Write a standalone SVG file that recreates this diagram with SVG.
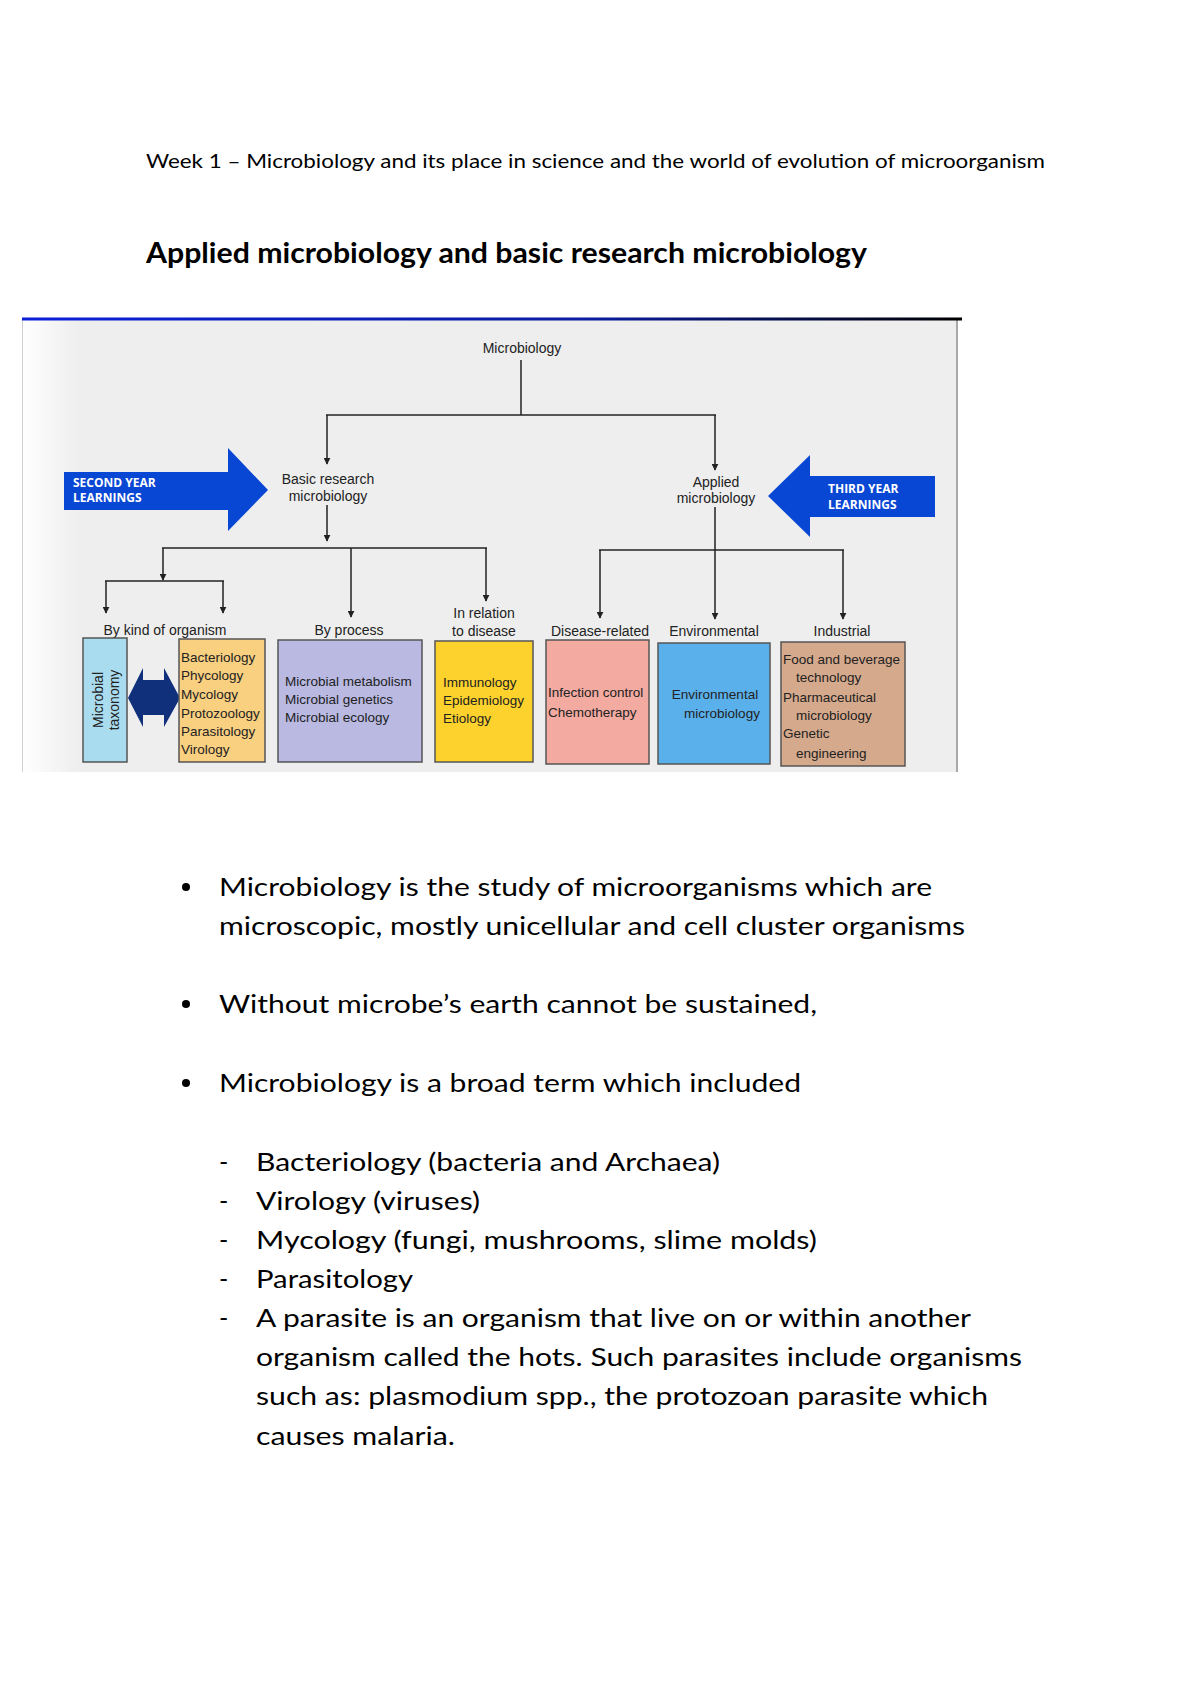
<svg xmlns="http://www.w3.org/2000/svg" width="1200" height="1698" viewBox="0 0 1200 1698">
<defs>
<linearGradient id="panelBg" x1="0" y1="0" x2="1" y2="0">
<stop offset="0" stop-color="#ffffff"/>
<stop offset="0.06" stop-color="#eeeeee"/>
<stop offset="1" stop-color="#eeeeee"/>
</linearGradient>
<linearGradient id="topLine" gradientUnits="userSpaceOnUse" x1="22" y1="0" x2="962" y2="0">
<stop offset="0" stop-color="#0a1fd8"/>
<stop offset="0.6" stop-color="#0a1ca0"/>
<stop offset="1" stop-color="#000000"/>
</linearGradient>
<marker id="ah" viewBox="0 0 10 10" refX="9" refY="5" markerWidth="7" markerHeight="7" markerUnits="userSpaceOnUse" orient="auto">
<path d="M0,0 L10,5 L0,10 z" fill="#222"/>
</marker>
<style>
.page{font-family:Lato,"Liberation Sans",sans-serif;fill:#000;}
.t1{font-size:20px;}
.h1{font-size:29px;font-weight:bold;}
.body{font-size:25px;}
.lbl{font-family:"Liberation Sans",Arial,sans-serif;font-size:14px;fill:#222;}
.box{font-family:"Liberation Sans",Arial,sans-serif;font-size:13.5px;fill:#222;}
.yr{font-family:"Open Sans","Liberation Sans",sans-serif;font-size:12px;font-weight:bold;fill:#fff;}
.conn line{stroke:#222;stroke-width:1.5;fill:none;}
.conn .arr{marker-end:url(#ah);}
.bx{stroke:#555;stroke-width:1.5;}
</style>
</defs>
<rect x="0" y="0" width="1200" height="1698" fill="#ffffff"/>

<g id="title">
<text class="page t1" x="146" y="168" textLength="899" lengthAdjust="spacingAndGlyphs">Week 1 – Microbiology and its place in science and the world of evolution of microorganism</text>
<text class="page h1" x="146" y="263" textLength="721" lengthAdjust="spacingAndGlyphs">Applied microbiology and basic research microbiology</text>
</g>

<g id="panel">
<rect x="22" y="320" width="936" height="452" fill="url(#panelBg)"/>
<line x1="22.5" y1="320" x2="22.5" y2="772" stroke="#cfcfcf" stroke-width="1"/>
<line x1="957" y1="320" x2="957" y2="772" stroke="#a8a8a8" stroke-width="2"/>
<rect x="22" y="317.5" width="940" height="3" fill="url(#topLine)"/>
</g>

<g id="connectors" class="conn">
<line x1="521" y1="360" x2="521" y2="415"/>
<line x1="326" y1="415" x2="716" y2="415"/>
<line class="arr" x1="327" y1="415" x2="327" y2="464"/>
<line class="arr" x1="715" y1="415" x2="715" y2="470"/>
<line class="arr" x1="327" y1="505" x2="327" y2="541"/>
<line x1="162" y1="548" x2="487" y2="548"/>
<line class="arr" x1="163" y1="548" x2="163" y2="580"/>
<line x1="105" y1="581" x2="224" y2="581"/>
<line class="arr" x1="106" y1="581" x2="106" y2="613"/>
<line class="arr" x1="223" y1="581" x2="223" y2="613"/>
<line class="arr" x1="351" y1="548" x2="351" y2="617"/>
<line class="arr" x1="486" y1="548" x2="486" y2="601"/>
<line class="arr" x1="715" y1="507" x2="715" y2="619"/>
<line x1="599" y1="550" x2="844" y2="550"/>
<line class="arr" x1="600" y1="550" x2="600" y2="618"/>
<line class="arr" x1="843" y1="550" x2="843" y2="619"/>
</g>

<g id="n-microbiology"><text class="lbl" x="522" y="353" text-anchor="middle">Microbiology</text></g>
<g id="n-basic">
<text class="lbl" x="328" y="484" text-anchor="middle">Basic research</text>
<text class="lbl" x="328" y="501" text-anchor="middle">microbiology</text>
</g>
<g id="n-applied">
<text class="lbl" x="716" y="487" text-anchor="middle">Applied</text>
<text class="lbl" x="716" y="503" text-anchor="middle">microbiology</text>
</g>

<g id="n-second-year">
<polygon points="64,472 228,472 228,448 268,490 228,531 228,510 64,510" fill="#0846d4"/>
<text class="yr" x="73" y="487">SECOND YEAR</text>
<text class="yr" x="73" y="502">LEARNINGS</text>
</g>
<g id="n-third-year">
<polygon points="935,476 810,476 810,455 768,496 810,537 810,517 935,517" fill="#0846d4"/>
<text class="yr" x="828" y="493">THIRD YEAR</text>
<text class="yr" x="828" y="509">LEARNINGS</text>
</g>

<g id="n-kind">
<text class="lbl" x="165" y="635" text-anchor="middle">By kind of organism</text>
<rect class="bx" x="83" y="638" width="44" height="124" fill="#a9dcef"/>
<text class="lbl" transform="translate(103,700) rotate(-90)" text-anchor="middle">Microbial</text>
<text class="lbl" transform="translate(119,700) rotate(-90)" text-anchor="middle">taxonomy</text>
<polygon points="128,698 143,668 143,680 164,680 164,668 180,698 164,727 164,715 143,715 143,727" fill="#10307c"/>
<rect class="bx" x="179" y="639" width="86" height="123" fill="#f9cf80"/>
<text class="box" x="181" y="662">Bacteriology</text>
<text class="box" x="181" y="680">Phycology</text>
<text class="box" x="181" y="699">Mycology</text>
<text class="box" x="181" y="718">Protozoology</text>
<text class="box" x="181" y="736">Parasitology</text>
<text class="box" x="181" y="754">Virology</text>
</g>

<g id="n-process">
<text class="lbl" x="349" y="635" text-anchor="middle">By process</text>
<rect class="bx" x="278" y="640" width="144" height="122" fill="#b9b9e2"/>
<text class="box" x="285" y="686">Microbial metabolism</text>
<text class="box" x="285" y="704">Microbial genetics</text>
<text class="box" x="285" y="722">Microbial ecology</text>
</g>

<g id="n-disease">
<text class="lbl" x="484" y="618" text-anchor="middle">In relation</text>
<text class="lbl" x="484" y="636" text-anchor="middle">to disease</text>
<rect class="bx" x="435" y="641" width="98" height="121" fill="#fdd22c"/>
<text class="box" x="443" y="687">Immunology</text>
<text class="box" x="443" y="705">Epidemiology</text>
<text class="box" x="443" y="723">Etiology</text>
</g>

<g id="n-disease-related">
<text class="lbl" x="600" y="636" text-anchor="middle">Disease-related</text>
<rect class="bx" x="546" y="640" width="103" height="124" fill="#f3aaa1"/>
<text class="box" x="548" y="697">Infection control</text>
<text class="box" x="548" y="717">Chemotherapy</text>
</g>

<g id="n-environmental">
<text class="lbl" x="714" y="636" text-anchor="middle">Environmental</text>
<rect class="bx" x="658" y="643" width="112" height="121" fill="#5ab0ea"/>
<text class="box" x="715" y="699" text-anchor="middle">Environmental</text>
<text class="box" x="722" y="718" text-anchor="middle">microbiology</text>
</g>

<g id="n-industrial">
<text class="lbl" x="842" y="636" text-anchor="middle">Industrial</text>
<rect class="bx" x="781" y="642" width="124" height="124" fill="#d5a98c"/>
<text class="box" x="783" y="664">Food and beverage</text>
<text class="box" x="796" y="682">technology</text>
<text class="box" x="783" y="702">Pharmaceutical</text>
<text class="box" x="796" y="720">microbiology</text>
<text class="box" x="783" y="738">Genetic</text>
<text class="box" x="796" y="758">engineering</text>
</g>

<g id="bullets">
<circle cx="186" cy="887" r="4" fill="#000"/>
<text class="page body" x="219" y="896" textLength="713" lengthAdjust="spacingAndGlyphs">Microbiology is the study of microorganisms which are</text>
<text class="page body" x="219" y="935" textLength="746" lengthAdjust="spacingAndGlyphs">microscopic, mostly unicellular and cell cluster organisms</text>
<circle cx="186" cy="1004" r="4" fill="#000"/>
<text class="page body" x="219" y="1013" textLength="598" lengthAdjust="spacingAndGlyphs">Without microbe’s earth cannot be sustained,</text>
<circle cx="186" cy="1083" r="4" fill="#000"/>
<text class="page body" x="219" y="1092" textLength="582" lengthAdjust="spacingAndGlyphs">Microbiology is a broad term which included</text>
</g>

<g id="dash-list">
<text class="page body" x="219" y="1171">-</text>
<text class="page body" x="256" y="1171" textLength="464" lengthAdjust="spacingAndGlyphs">Bacteriology (bacteria and Archaea)</text>
<text class="page body" x="219" y="1210">-</text>
<text class="page body" x="256" y="1210" textLength="224" lengthAdjust="spacingAndGlyphs">Virology (viruses)</text>
<text class="page body" x="219" y="1249">-</text>
<text class="page body" x="256" y="1249" textLength="561" lengthAdjust="spacingAndGlyphs">Mycology (fungi, mushrooms, slime molds)</text>
<text class="page body" x="219" y="1288">-</text>
<text class="page body" x="256" y="1288" textLength="157" lengthAdjust="spacingAndGlyphs">Parasitology</text>
<text class="page body" x="219" y="1327">-</text>
<text class="page body" x="256" y="1327" textLength="715" lengthAdjust="spacingAndGlyphs">A parasite is an organism that live on or within another</text>
<text class="page body" x="256" y="1366" textLength="766" lengthAdjust="spacingAndGlyphs">organism called the hots. Such parasites include organisms</text>
<text class="page body" x="256" y="1405" textLength="732" lengthAdjust="spacingAndGlyphs">such as: plasmodium spp., the protozoan parasite which</text>
<text class="page body" x="256" y="1445" textLength="199" lengthAdjust="spacingAndGlyphs">causes malaria.</text>
</g>
</svg>
